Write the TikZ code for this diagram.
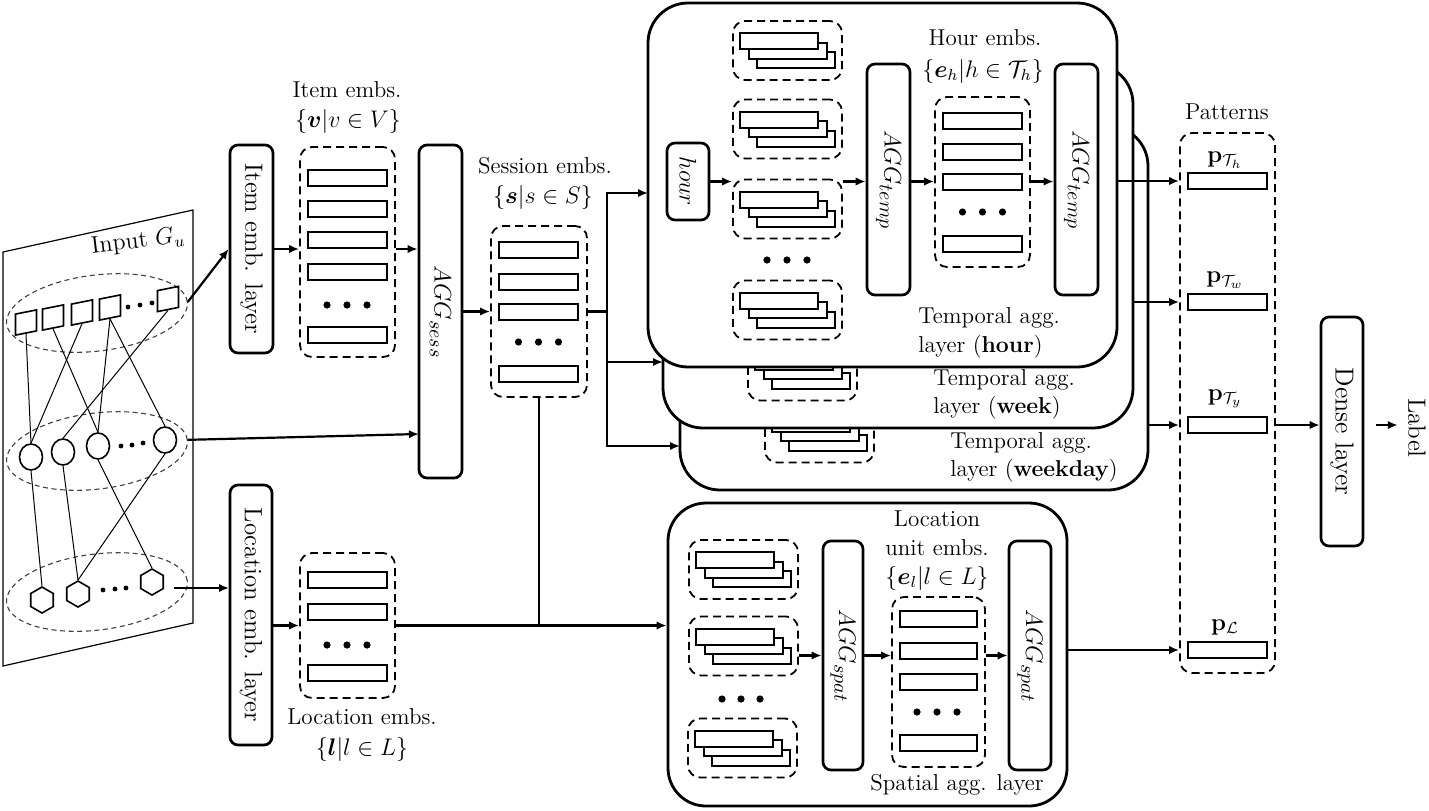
\documentclass[tikz,border=0pt]{standalone}
\usepackage{amsmath,amssymb,bm,graphicx}
\usetikzlibrary{arrows.meta,shapes.geometric,calc}
\newcommand\mydots[4]{%
  \node[bigdot] (#1a) at ({#2-#4},#3) {};
  \node[bigdot] (#1b) at (#2,#3) {};
  \node[bigdot] (#1c) at ({#2+#4},#3) {};}
\newcommand\mystack[3]{%
  \node[dashbox, minimum width=54.5pt, minimum height=29.5pt] (#1) at (#2,#3) {};
  \node[stk] (#1c) at ({#2+8.5},{#3+9.5}) {};
  \node[stk] (#1b) at (#2,#3) {};
  \node[stk] (#1a) at ({#2-8.5},{#3-9.5}) {};}
\newcommand\aggof[1]{$AGG$\raisebox{-0.45ex}{\fontsize{10}{11}\selectfont$#1$}}
\begin{document}
\begin{tikzpicture}[x=0.5pt,y=-0.5pt, font=\fontsize{11.5}{13}\selectfont,
  >={Latex[length=5pt,width=4.2pt]},
  arr/.style={->, line width=1.1pt},
  conn/.style={line width=1.1pt},
  layerbox/.style={draw, line width=1.35pt, rounded corners=4pt, inner sep=0pt, fill=white, font=\fontsize{12.5}{14}\selectfont},
  bigbox/.style={draw, line width=1.4pt, rounded corners=20pt, fill=white, inner sep=0pt},
  dashbox/.style={draw, dash pattern=on 4pt off 2.5pt, line width=0.9pt, rounded corners=6pt, inner sep=0pt},
  embrect/.style={draw, line width=1pt, fill=white, minimum width=39.5pt, minimum height=8pt, inner sep=0pt},
  stk/.style={draw, line width=1pt, fill=white, minimum width=39pt, minimum height=8pt, inner sep=0pt},
  bigdot/.style={circle, fill, inner sep=0pt, minimum size=3.6pt},
  smalldot/.style={circle, fill, inner sep=0pt, minimum size=2.4pt},
  txt/.style={inner sep=0pt},
  gell/.style={ellipse, draw=black!75, dash pattern=on 2.5pt off 1.8pt, line width=0.55pt, minimum width=91pt, minimum height=38pt, rotate=7, inner sep=0pt},
  sq/.style={draw, line width=0.8pt, minimum size=10.5pt, inner sep=0pt, yslant=0.2},
  cir/.style={ellipse, draw, line width=0.8pt, minimum width=11.5pt, minimum height=13pt, inner sep=0pt},
  hexa/.style={regular polygon, regular polygon sides=6, shape border rotate=30, draw, line width=0.8pt, minimum size=13pt, inner sep=0pt},
  gedge/.style={line width=0.5pt},
]
\useasboundingbox (0,0) rectangle (1429,810);

% ---------------- input plane ----------------
\draw[line width=0.6pt] (3,252) -- (193,210) -- (193,623) -- (3,666) -- cycle;
\node[txt, rotate=7, font=\fontsize{12}{14}\selectfont] (inlbl) at (138,242) {Input $G_u$};
\node[gell] (e1) at (97,313) {};
\node[gell] (e2) at (97,451) {};
\node[gell] (e3) at (97,592) {};
\node[sq] (s1) at (26,322.5) {};
\node[sq] (s2) at (53,317.5) {};
\node[sq] (s3) at (82,312.5) {};
\node[sq] (s4) at (110,307.5) {};
\node[sq] (s5) at (168,299) {};
\node[smalldot] (d1a) at (128,307) {};
\node[smalldot] (d1b) at (140,305) {};
\node[smalldot] (d1c) at (152,303) {};
\node[cir] (c1) at (31,457) {};
\node[cir] (c2) at (63,452) {};
\node[cir] (c3) at (98,446) {};
\node[cir] (c4) at (165,440) {};
\node[smalldot] (d2a) at (121,446) {};
\node[smalldot] (d2b) at (132,445) {};
\node[smalldot] (d2c) at (143,443) {};
\node[hexa] (h1) at (42,600) {};
\node[hexa] (h2) at (78,594) {};
\node[hexa] (h3) at (152,582) {};
\node[smalldot] (d3a) at (103,590) {};
\node[smalldot] (d3b) at (115,589) {};
\node[smalldot] (d3c) at (126,588) {};
\draw[gedge] (s1.south) -- (c1.north);
\draw[gedge] (s3.south) -- (c1.north);
\draw[gedge] (s2.south) -- (c3.north);
\draw[gedge] (s4.south) -- (c3.north);
\draw[gedge] (s4.south) -- (c4.north);
\draw[gedge] (s5.south) -- (c2.north);
\draw[gedge] (c1.south) -- (h1.north);
\draw[gedge] (c2.south) -- (h2.north);
\draw[gedge] (c3.south) -- (h3.north);
\draw[gedge] (c4.south) -- (h2.north);

% ---------------- item / session ----------------
\node[layerbox, minimum width=21.5pt, minimum height=104pt] (itemL) at (251.5,249) {\rotatebox{-90}{Item emb. layer}};
\node[layerbox, minimum width=21pt, minimum height=130pt] (locL) at (251,615) {\rotatebox{-90}{Location emb. layer}};
\node[layerbox, minimum width=21.5pt, minimum height=166.5pt] (aggS) at (440.5,311.5) {\rotatebox{-90}{\aggof{sess}}};

\node[txt] (itemT1) at (347,90) {Item embs.};
\node[txt] (itemT2) at (348,121) {$\{\bm{v}|v\in V\}$};
\node[dashbox, minimum width=47.5pt, minimum height=105pt] (itemE) at (347.5,252) {};
\node[embrect] (ie1) at (347.5,178) {};
\node[embrect] (ie2) at (347.5,209) {};
\node[embrect] (ie3) at (347.5,240) {};
\node[embrect] (ie4) at (347.5,272) {};
\mydots{ied}{347}{305}{20}
\node[embrect] (ie5) at (347.5,335) {};

\node[txt] (sessT1) at (545,166) {Session embs.};
\node[txt] (sessT2) at (543,197) {$\{\bm{s}|s\in S\}$};
\node[dashbox, minimum width=48pt, minimum height=85.5pt] (sessE) at (539,311.5) {};
\node[embrect] (se1) at (538.5,250) {};
\node[embrect] (se2) at (538.5,282) {};
\node[embrect] (se3) at (538.5,312) {};
\mydots{sed}{538.5}{342}{20}
\node[embrect] (se4) at (538.5,374) {};

\node[txt] (locT1) at (362,717) {Location embs.};
\node[txt] (locT2) at (362,749) {$\{\bm{l}|l\in L\}$};
\node[dashbox, minimum width=47.5pt, minimum height=72.5pt] (locE) at (347.5,625.5) {};
\node[embrect] (le1) at (347.5,580) {};
\node[embrect] (le2) at (347.5,612) {};
\mydots{led}{347}{645}{20}
\node[embrect] (le3) at (347.5,673) {};

\coordinate (aggin) at (419,434);
\coordinate (locin) at (229,588);
\coordinate (tj) at (607,311.5);
\coordinate (tin1) at (648,193);
\coordinate (tin2) at (663,362);
\coordinate (tin3) at (680,446);

\draw[arr] (e1.east) -- (itemL.west);
\draw[arr] (e2.east) -- (aggin);
\draw[arr] (h3.east) ++(10,6) -- (locin);
\draw[arr] (itemL.east) -- (itemE.west |- itemL.east);
\draw[arr] (itemE.east |- itemL.east) -- (aggS.west |- itemL.east);
\draw[arr] (aggS.east |- sessE.west) -- (sessE.west);
\draw[arr] (locL.east |- locE.west) -- (locE.west);

% ---------------- temporal layers (back to front) ----------------
\node[bigbox, minimum width=234pt, minimum height=182pt] (tD) at (914,308) {};
\mystack{gD4}{819.5}{433}
\node[txt, anchor=west] (tDl1) at (950,443) {Temporal agg.};
\node[txt, anchor=west] (tDl2) at (950,471) {layer (\textbf{weekday})};

\node[bigbox, minimum width=235pt, minimum height=182pt] (tW) at (898,246) {};
\mystack{gW4}{802.5}{371}
\node[txt, anchor=west] (tWl1) at (933,380) {Temporal agg.};
\node[txt, anchor=west] (tWl2) at (933,408) {layer (\textbf{week})};

\node[bigbox, minimum width=234.5pt, minimum height=182pt] (tF) at (882.5,185) {};
\node[layerbox, minimum width=21pt, minimum height=38.5pt] (hourb) at (688,181.5) {\rotatebox{-90}{$hour$}};
\mystack{g1}{787.5}{50.5}
\mystack{g2}{787.5}{129}
\mystack{g3}{787.5}{209}
\mydots{gd}{787}{260}{20}
\mystack{g4}{787.5}{310}
\node[layerbox, minimum width=21.5pt, minimum height=115.5pt] (aggT1) at (888.5,179.5) {\rotatebox{-90}{\aggof{temp}}};
\node[layerbox, minimum width=21.5pt, minimum height=115.5pt] (aggT2) at (1076.5,179.5) {\rotatebox{-90}{\aggof{temp}}};
\node[txt] (hourT1) at (985,38) {Hour embs.};
\node[txt] (hourT2) at (983,71) {$\{\bm{e}_h|h\in \mathcal{T}_h\}$};
\node[dashbox, minimum width=47.5pt, minimum height=85pt] (hourE) at (982.5,182) {};
\node[embrect] (he1) at (982.5,121) {};
\node[embrect] (he2) at (982.5,152) {};
\node[embrect] (he3) at (982.5,182) {};
\mydots{hed}{982.5}{212}{20}
\node[embrect] (he4) at (982.5,244) {};
\node[txt, anchor=west] (tFl1) at (918,318) {Temporal agg.};
\node[txt, anchor=west] (tFl2) at (918,347) {layer (\textbf{hour})};
\draw[arr] (hourb.east) -- (g3.west |- hourb.east);
\draw[arr] (g3.east |- hourb.east) -- (aggT1.west |- hourb.east);
\draw[arr] (aggT1.east |- hourb.east) -- (hourE.west |- hourb.east);
\draw[arr] (hourE.east |- hourb.east) -- (aggT2.west |- hourb.east);

% session fan-out
\draw[conn] (sessE.east) -- (tj);
\draw[arr] (tj) |- (tin1);
\draw[arr] (tj) |- (tin2);
\draw[arr] (tj) |- (tin3);
\draw[conn] (sessE.south) -- (sessE.south |- locE.east);

% ---------------- spatial layer ----------------
\node[bigbox, rounded corners=19pt, minimum width=199.5pt, minimum height=151.5pt] (spat) at (867.5,654.5) {};
\mystack{sg1}{743.5}{569.5}
\mystack{sg2}{743.5}{646}
\mydots{sgd}{741}{699}{19}
\mystack{sg3}{742.5}{748}
\node[layerbox, minimum width=20pt, minimum height=114.5pt] (aggP1) at (843,655.5) {\rotatebox{-90}{\aggof{spat}}};
\node[layerbox, minimum width=21pt, minimum height=114.5pt] (aggP2) at (1030,655.5) {\rotatebox{-90}{\aggof{spat}}};
\node[txt] (unitT1) at (937,519) {Location};
\node[txt] (unitT2) at (937,548) {unit embs.};
\node[txt] (unitT3) at (937,578) {$\{\bm{e}_l|l\in L\}$};
\node[dashbox, minimum width=46.5pt, minimum height=85pt] (unitE) at (938.5,682) {};
\node[embrect, minimum width=38.5pt] (ue1) at (938.5,619) {};
\node[embrect, minimum width=38.5pt] (ue2) at (938.5,651) {};
\node[embrect, minimum width=38.5pt] (ue3) at (938.5,682) {};
\mydots{ued}{937}{712}{20}
\node[embrect, minimum width=38.5pt] (ue4) at (938.5,743) {};
\node[txt] (spatT) at (957,785) {Spatial agg. layer};
\draw[arr] (sg2.east |- aggP1.west) -- (aggP1.west);
\draw[arr] (aggP1.east) -- (unitE.west |- aggP1.east);
\draw[arr] (unitE.east |- aggP1.east) -- (aggP2.west);
\draw[arr] (locE.east) -- (spat.west |- locE.east);

% ---------------- patterns ----------------
\node[txt] (patT) at (1227,112) {Patterns};
\node[dashbox, minimum width=47.5pt, minimum height=270pt] (pat) at (1227.5,403) {};
\node[embrect] (pTh) at (1227.5,181) {};
\node[embrect] (pTw) at (1227.5,302) {};
\node[embrect] (pTy) at (1227.5,425) {};
\node[embrect] (pL) at (1227.5,650) {};
\node[txt] (pThT) at (1225,160) {$\mathbf{p}_{\mathcal{T}_h}$};
\node[txt] (pTwT) at (1225,280) {$\mathbf{p}_{\mathcal{T}_w}$};
\node[txt] (pTyT) at (1225,399) {$\mathbf{p}_{\mathcal{T}_y}$};
\node[txt] (pLT) at (1225,627) {$\mathbf{p}_{\mathcal{L}}$};
\draw[arr] (tF.east |- pTh) -- (pat.west |- pTh);
\draw[arr] (tW.east |- pTw) -- (pat.west |- pTw);
\draw[arr] (tD.east |- pTy) -- (pat.west |- pTy);
\draw[arr] (spat.east |- pL) -- (pat.west |- pL);

\node[layerbox, minimum width=21pt, minimum height=114.5pt, font=\fontsize{13}{15}\selectfont] (dense) at (1342,431.5) {\rotatebox{-90}{Dense layer}};
\node[txt, font=\fontsize{12.5}{14}\selectfont] (lbl) at (1417,428) {\rotatebox{-90}{Label}};
\draw[arr, shorten >=5pt] (dense.east |- pTy) ++(12,0) -- (lbl.west |- pTy);
\draw[arr] (pat.east |- pTy) -- (dense.west |- pTy);
\end{tikzpicture}
\end{document}
